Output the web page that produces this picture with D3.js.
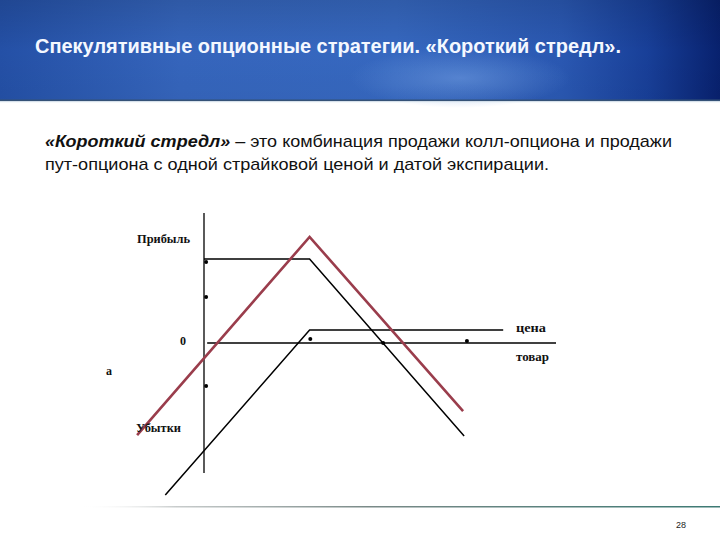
<!DOCTYPE html>
<html><head><meta charset="utf-8">
<script src="https://cdn.jsdelivr.net/npm/d3@7"></script>
<style>html,body{margin:0;padding:0;background:#fff;}svg{display:block;}</style>
</head><body>
<script>
// ---- data (schematic payoff diagram, abstract units) ----
const titleText = "Спекулятивные опционные стратегии. «Короткий стредл».";
const introBold = "«Короткий стредл»";
const introRest1 = " – это комбинация продажи колл-опциона и продажи";
const introLine2 = "пут-опциона с одной страйковой ценой и датой экспирации.";
const axisLabels = ["Прибыль", "0", "а", "Убытки", "цена", "товар"];
const pageNumber = "28";

const straddleLine = [[-19, -35.4], [30, 40.8], [73.6, -26.2]];   // red: short straddle
const shortCallLine = [[0, 32.3], [30, 32.3], [73.9, -35.8]];    // black: short call
const shortPutLine = [[-11, -58.5], [30, 5], [85, 5]];            // black: short put
const markerPoints = [[0.6, 31.2], [0.6, 17.7], [0.6, -16.5], [30.2, 1.5], [50.9, 0], [74.7, 0.8]];
const xAxisExtent = [0.9, 100];
const yAxisExtent = [-50, 50];

// ---- drawing ----
const W = 720, H = 540;
const svg = d3.select("body").append("svg").attr("width", W).attr("height", H);
const defs = svg.append("defs");

// banner gradient
const g1 = defs.append("linearGradient").attr("id", "ban").attr("x1", 0).attr("x2", 1).attr("y1", 0).attr("y2", 0);
[[0, "#2450a6"], [0.25, "#3565bc"], [0.55, "#3668c0"], [0.78, "#2a58b2"], [0.9, "#183f98"], [1, "#08216e"]]
  .forEach(([o, c]) => g1.append("stop").attr("offset", o).attr("stop-color", c));
const g2 = defs.append("radialGradient").attr("id", "glow").attr("cx", 0.5).attr("cy", 0.5).attr("r", 0.5);
g2.append("stop").attr("offset", 0).attr("stop-color", "#6a98e0").attr("stop-opacity", 0.65);
g2.append("stop").attr("offset", 1).attr("stop-color", "#6a98e0").attr("stop-opacity", 0);
const g3 = defs.append("linearGradient").attr("id", "vshade").attr("x1", 0).attr("x2", 0).attr("y1", 0).attr("y2", 1);
g3.append("stop").attr("offset", 0).attr("stop-color", "#000").attr("stop-opacity", 0.12);
g3.append("stop").attr("offset", 0.5).attr("stop-color", "#000").attr("stop-opacity", 0);
g3.append("stop").attr("offset", 1).attr("stop-color", "#000").attr("stop-opacity", 0.03);

svg.append("rect").attr("x", 0).attr("y", 0).attr("width", W).attr("height", 101).attr("fill", "url(#ban)");
svg.append("ellipse").attr("cx", 460).attr("cy", 78).attr("rx", 110).attr("ry", 30).attr("fill", "url(#glow)");
svg.append("rect").attr("x", 0).attr("y", 0).attr("width", W).attr("height", 101).attr("fill", "url(#vshade)");
svg.append("rect").attr("x", 0).attr("y", 99.5).attr("width", W).attr("height", 1.8).attr("fill", "#355277");
svg.append("rect").attr("x", 0).attr("y", 101.3).attr("width", W).attr("height", 1).attr("fill", "#dfeaf2");

svg.append("text").attr("x", 35).attr("y", 53)
  .attr("font-family", "'Liberation Sans Narrow','Liberation Sans',Arial,sans-serif")
  .attr("font-size", 20).attr("font-weight", "bold").attr("fill", "#f4f8ff")
  .attr("textLength", 586).attr("lengthAdjust", "spacingAndGlyphs")
  .text(titleText);

// intro paragraph
const t1 = svg.append("text").attr("x", 45).attr("y", 147)
  .attr("font-family", "'Liberation Sans',Arial,sans-serif").attr("font-size", 17).attr("fill", "#111")
  .attr("textLength", 627).attr("lengthAdjust", "spacingAndGlyphs");
t1.append("tspan").attr("font-weight", "bold").attr("font-style", "italic").text(introBold);
t1.append("tspan").text(introRest1);
svg.append("text").attr("x", 45).attr("y", 170)
  .attr("font-family", "'Liberation Sans',Arial,sans-serif").attr("font-size", 17).attr("fill", "#111")
  .attr("textLength", 504).attr("lengthAdjust", "spacingAndGlyphs")
  .text(introLine2);

// scales
const x = d3.scaleLinear().domain([0, 100]).range([204, 556]);
const y = d3.scaleLinear().domain([-50, 50]).range([473, 213]);
const line = d3.line().x(d => x(d[0])).y(d => y(d[1]));

// axes
svg.append("line").attr("x1", x(0)).attr("x2", x(0)).attr("y1", y(yAxisExtent[0])).attr("y2", y(yAxisExtent[1]))
  .attr("stroke", "#000").attr("stroke-width", 1.3);
svg.append("line").attr("x1", x(xAxisExtent[0])).attr("x2", x(xAxisExtent[1])).attr("y1", y(0)).attr("y2", y(0))
  .attr("stroke", "#000").attr("stroke-width", 1.3);

// payoff lines
svg.append("path").attr("d", line(shortCallLine)).attr("fill", "none").attr("stroke", "#000").attr("stroke-width", 1.5);
svg.append("path").attr("d", line(shortPutLine)).attr("fill", "none").attr("stroke", "#000").attr("stroke-width", 1.5);
svg.append("path").attr("d", line(straddleLine)).attr("fill", "none").attr("stroke", "#9a3d4c").attr("stroke-width", 2.6);

// markers
svg.selectAll("circle.m").data(markerPoints).enter().append("circle")
  .attr("cx", d => x(d[0])).attr("cy", d => y(d[1])).attr("r", 2).attr("fill", "#000");

// labels: [text, x, baseline, width]
const lab = [
  [axisLabels[0], 137, 243, 53], [axisLabels[1], 180, 345, 6], [axisLabels[2], 106, 375, 6],
  [axisLabels[3], 136, 432, 45], [axisLabels[4], 516, 332, 30], [axisLabels[5], 516, 361, 33]
];
svg.selectAll("text.lab").data(lab).enter().append("text")
  .attr("x", d => d[1]).attr("y", d => d[2])
  .attr("font-family", "'Liberation Serif','DejaVu Serif',serif").attr("font-weight", "bold")
  .attr("font-size", 12).attr("fill", "#111")
  .attr("textLength", d => d[3]).attr("lengthAdjust", "spacingAndGlyphs")
  .text(d => d[0]);

// footer
const g4 = defs.append("linearGradient").attr("id", "foot").attr("x1", 0).attr("x2", 1).attr("y1", 0).attr("y2", 0);
[[0, "#ffffff", 0], [0.15, "#c8cccc", 1], [0.45, "#7a8a88", 1], [1, "#3d7a74", 1]]
  .forEach(([o, c, op]) => g4.append("stop").attr("offset", o).attr("stop-color", c).attr("stop-opacity", op));
svg.append("rect").attr("x", 80).attr("y", 506).attr("width", 640).attr("height", 1.5).attr("fill", "url(#foot)");
svg.append("text").attr("x", 676).attr("y", 528).attr("font-family", "'Liberation Sans',Arial,sans-serif")
  .attr("font-size", 9).attr("fill", "#222").text(pageNumber);
</script>
</body></html>
